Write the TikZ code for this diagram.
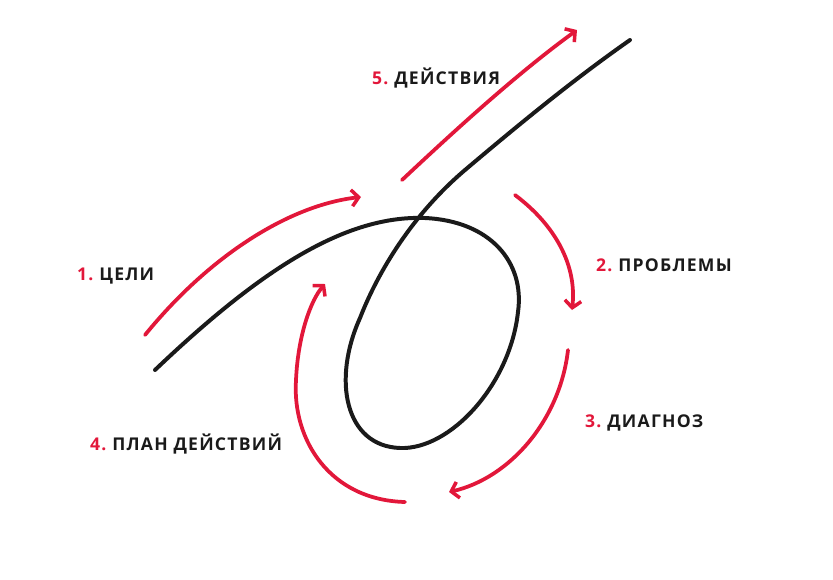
\documentclass[tikz,border=0pt]{standalone}
\usepackage{fontspec}
\setmainfont{Open Sans}
\newfontfamily\labelfont[LetterSpace=7]{Open Sans}
\usepackage{tikz}
\usetikzlibrary{arrows.meta,positioning}
\definecolor{cred}{HTML}{E2173A}
\definecolor{cblack}{HTML}{1A1A1A}
\tikzset{
  steplabel/.style={anchor=west,inner sep=0pt,font=\labelfont\bfseries\fontsize{15}{18}\selectfont,text=cblack},
  redarrow/.style={draw=cred,line width=3.2pt,line cap=round,-{Straight Barb[length=6pt,width=14pt,line width=3pt]}}
}
\newcommand{\stepno}[1]{\textcolor{cred}{#1.}\ }
\begin{document}
\begin{tikzpicture}[x=0.03cm,y=-0.03cm]
 \useasboundingbox (0,0) rectangle (833,579);
    %the loop
    \draw [cblack,line width=3.4pt,line cap=round]
      (155,370) .. controls (260,270) and (345,215) .. (425,218)
      .. controls (490,221) and (525,262) .. (518,312)
      .. controls (510,385) and (450,450) .. (400,448)
      .. controls (345,446) and (332,380) .. (360,318)
      .. controls (378,272) and (412,215) .. (465,170)
      .. controls (530,115) and (580,75) .. (630,40);

    %the steps
    \begin{scope}[every path/.style={redarrow}]
       \draw (145,335) .. controls (210,255) and (290,205) .. (361,197);
       \draw (515,195) .. controls (555,225) and (577,265) .. (572,310);
       \draw (568,350) .. controls (560,420) and (510,478) .. (449,492);
       \draw (405,502) .. controls (330,500) and (292,440) .. (296,380)
             .. controls (298,335) and (311,300) .. (325,284);
       \draw (402,180) .. controls (450,135) and (515,75) .. (577,30);
    \end{scope}

    %names of the steps
    \node[steplabel] (goals) at (77,276) {\stepno{1}ЦЕЛИ};
    \node[steplabel] (problems) at (596,265) {\stepno{2}ПРОБЛЕМЫ};
    \node[steplabel] (diagnosis) at (585,423) {\stepno{3}ДИАГНОЗ};
    \node[steplabel] (plan) at (90,444) {\stepno{4}ПЛАН ДЕЙСТВИЙ};
    \node[steplabel] (actions) at (372,78) {\stepno{5}ДЕЙСТВИЯ};
\end{tikzpicture}
\end{document}
